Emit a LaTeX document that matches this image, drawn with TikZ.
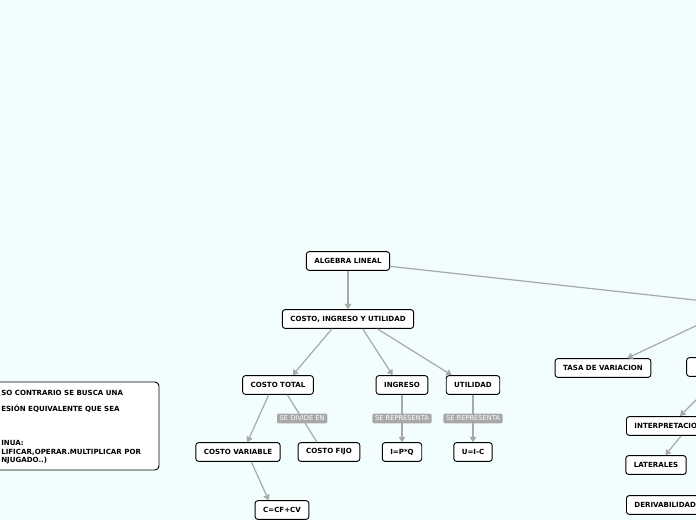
\documentclass[tikz,border=0pt]{standalone}
\usepackage{fontspec}
\setmainfont{DejaVu Sans}
\usetikzlibrary{arrows.meta}
\definecolor{bg}{HTML}{F2FEFE}
\definecolor{ln}{HTML}{A8A8A8}
\begin{document}
\begin{tikzpicture}[x=0.75pt,y=-0.75pt,
  box/.style={draw=black,fill=white,rounded corners=2pt,line width=0.7pt,font=\fontsize{5.3}{6}\selectfont\bfseries,minimum height=14pt,inner xsep=6pt},
  conn/.style={draw=ln,line width=0.9pt},
  arr/.style={conn,-{Triangle[length=4pt,width=5pt]}},
  lab/.style={fill=ln,text=white,font=\fontsize{5}{6}\selectfont,inner xsep=2pt,inner ysep=1.8pt,rounded corners=1pt},
  tl/.style={anchor=west,font=\fontsize{5.3}{6}\selectfont\bfseries,inner sep=0}]
\fill[bg] (0,0) rectangle (696,520);
\clip (0,0) rectangle (696,520);
\useasboundingbox (0,0) rectangle (696,520);
% left box
\draw[fill=white,rounded corners=3pt,line width=0.7pt] (-20,382) rectangle (159,470);
\node[tl] at (1,393) {SO CONTRARIO SE BUSCA UNA};
\node[tl] at (1,409) {ESIÓN EQUIVALENTE QUE SEA};
\node[tl] at (1,443) {INUA:};
\node[tl] at (1,452) {LIFICAR,OPERAR.MULTIPLICAR POR};
\node[tl] at (1,461) {NJUGADO..)};
% nodes
\node[box] (alg) at (348,261) {ALGEBRA LINEAL};
\node[box] (ciu) at (348,319) {COSTO, INGRESO Y UTILIDAD};
\node[box] (ct) at (278,385) {COSTO TOTAL};
\node[box] (ing) at (402,385) {INGRESO};
\node[box] (uti) at (473,385) {UTILIDAD};
\node[box] (cv) at (238,452) {COSTO VARIABLE};
\node[box] (cf) at (329,452) {COSTO FIJO};
\node[box] (ipq) at (402,452) {I=P*Q};
\node[box] (uic) at (473,452) {U=I-C};
\node[box] (c) at (282,510) {C=CF+CV};
\node[box] (tasa) at (603,368) {TASA DE VARIACION};
\node[box,minimum width=50pt] (hid) at (720,367) {};
\node[box,anchor=west] (int) at (626,426) {INTERPRETACION GEOMETRICA};
\node[box] (lat) at (656,465) {LATERALES};
\node[box,anchor=west] (der) at (626,505) {DERIVABILIDAD};
\coordinate (off) at (740,305);
% connectors
\draw[arr] (alg) -- (ciu);
\draw[conn] ([yshift=-4pt]alg.east) -- (off);
\draw[arr] (off) -- ([xshift=-18pt]tasa.north east);
\draw[arr] (700,396) -- (680,416);
\draw[arr] ([xshift=-12pt]ciu.south) -- ([xshift=11pt]ct.north);
\draw[arr] ([xshift=11pt]ciu.south) -- ([xshift=-7pt]ing.north);
\draw[arr] ([xshift=22pt]ciu.south) -- ([xshift=-16pt]uti.north);
\draw[arr] ([xshift=-7pt]ct.south) -- ([xshift=7pt]cv.north);
\draw[conn] ([xshift=7pt]ct.south) -- ([xshift=-9pt]cf.north) node[lab,pos=0.5] {SE DIVIDE EN};
\draw[arr] (ing) -- (ipq) node[lab,pos=0.5] {SE REPRESENTA};
\draw[arr] (uti) -- (uic) node[lab,pos=0.5] {SE REPRESENTA};
\draw[arr] ([xshift=10pt]cv.south) -- ([xshift=-10pt]c.north);
\draw[arr] (681,436) -- ([xshift=7pt]lat.north);
\end{tikzpicture}
\end{document}
